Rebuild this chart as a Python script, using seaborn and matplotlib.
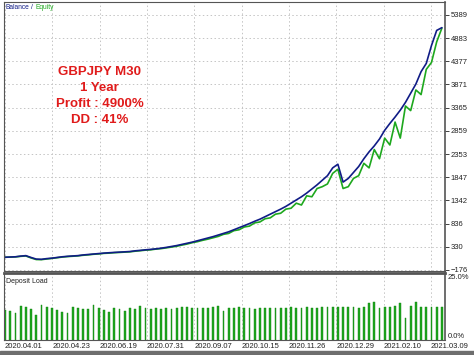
import numpy as np
import matplotlib.pyplot as plt
import seaborn as sns
from matplotlib.patches import Rectangle

# trade-by-trade balance / equity
balance = [100, 105, 110, 125, 135, 95, 60, 55, 70, 80,
           95, 110, 120, 128, 135, 150, 160, 170, 180, 190,
           198, 205, 212, 218, 225, 240, 250, 262, 272, 283,
           298, 315, 335, 355, 380, 405, 430, 460, 490, 520,
           550, 585, 620, 655, 700, 745, 790, 835, 885, 930,
           985, 1040, 1095, 1150, 1210, 1280, 1350, 1420, 1500, 1590,
           1680, 1780, 1880, 2050, 2130, 1740, 1820, 1950, 2080, 2250,
           2400, 2530, 2680, 2870, 3020, 3160, 3310, 3480, 3680, 3880,
           4150, 4330, 4720, 5050, 5110]
equity = [100, 103, 108, 120, 128, 85, 50, 48, 62, 75,
          90, 104, 115, 122, 130, 143, 152, 165, 172, 185,
          190, 200, 205, 212, 218, 232, 243, 255, 262, 278,
          288, 305, 322, 340, 365, 388, 418, 440, 470, 495,
          525, 555, 600, 620, 680, 700, 760, 780, 850, 870,
          940, 960, 1040, 1060, 1150, 1170, 1280, 1240, 1440, 1420,
          1600, 1640, 1700, 1930, 2020, 1600, 1640, 1820, 1880, 2150,
          2050, 2450, 2250, 2700, 2550, 3050, 2700, 3400, 3300, 3750,
          3650, 4200, 4350, 4800, 5100]
deposit_load = [11.7, 11.4, 10.7, 13.4, 12.8, 12.0, 9.8, 13.7, 13.0, 12.4,
                11.7, 10.9, 10.4, 13.0, 12.6, 12.0, 12.0, 13.5, 12.6, 11.7,
                10.9, 12.6, 12.0, 11.4, 12.6, 12.0, 13.2, 12.4, 12.0, 12.4,
                12.0, 12.4, 12.0, 12.4, 13.0, 12.8, 12.4, 12.6, 12.6, 12.6,
                12.8, 13.3, 11.4, 12.4, 12.4, 12.8, 12.4, 12.4, 12.0, 12.4,
                12.4, 12.4, 12.6, 12.4, 12.4, 12.8, 12.6, 12.4, 12.8, 12.4,
                12.6, 12.8, 13.0, 12.8, 12.8, 12.8, 12.8, 12.8, 12.6, 12.8,
                14.4, 15.0, 12.4, 12.8, 12.8, 13.2, 14.6, 8.6, 13.2, 15.0,
                13.0, 13.0, 13.0, 12.8, 12.8]
trades = list(range(len(balance)))

y_ticks = [-176, 330, 836, 1342, 1847, 2353, 2859, 3365, 3871, 4377, 4883, 5389]
x_labels = ["2020.04.01", "2020.04.23", "2020.06.19", "2020.07.31", "2020.09.07",
            "2020.10.15", "2020.11.26", "2020.12.29", "2021.02.10", "2021.03.09"]
headline = ["GBPJPY M30", "1 Year", "Profit : 4900%", "DD : 41%"]

sns.set_style("white")
plt.rcParams["font.family"] = ["Liberation Sans", "DejaVu Sans"]

fig = plt.figure(figsize=(4.74, 3.55), dpi=100)
ax = fig.add_axes([4 / 474, 1 - 271 / 355, 441 / 474, 269 / 355])
ax2 = fig.add_axes([4 / 474, 1 - 340 / 355, 441 / 474, 67 / 355], sharex=ax)

navy = "#101c86"
green = "#1ea81e"
grid_kw = dict(color="#c4c4c4", linestyle=(0, (1.5, 2.5)), linewidth=0.7)

sns.lineplot(x=trades, y=equity, ax=ax, color=green, linewidth=1.2)
sns.lineplot(x=trades, y=balance, ax=ax, color=navy, linewidth=1.2)

x_ticks = np.arange(len(x_labels)) * 9.1
ax.set_xlim(-0.2, 84.6)
ax.set_ylim(-200, 5670)
ax.set_yticks(y_ticks)
ax.yaxis.tick_right()
ax.tick_params(axis="y", labelsize=5.5, length=3, width=0.6, pad=1, colors="#222222")
ax.set_xticks(x_ticks)
ax.tick_params(axis="x", labelbottom=False, length=0)
ax.grid(True, **grid_kw)
for s in ax.spines.values():
    s.set_color("#555555")
    s.set_linewidth(0.8)
ax.spines["right"].set_linewidth(1.2)

fig.text(5 / 474, 1 - 4 / 355, "Balance", fontsize=4.8, color=navy, va="top")
fig.text(31 / 474, 1 - 4 / 355, "/", fontsize=4.8, color=navy, va="top")
fig.text(36 / 474, 1 - 4 / 355, "Equity", fontsize=4.8, color=green, va="top")

for k, line in enumerate(headline):
    ax.text(0.217, 0.74 - k * 0.06, line, transform=ax.transAxes, ha="center", va="center",
            fontsize=9.5, fontweight="bold", color="#e01b1b")

ax2.bar(trades, deposit_load, width=0.35, color=green, edgecolor="#138013", linewidth=0.3)
ax2.set_ylim(0, 26.2)
ax2.set_yticks([0, 25])
ax2.set_yticklabels(["0.0%", "25.0%"])
ax2.yaxis.tick_right()
ax2.tick_params(axis="y", labelsize=5.5, length=0, pad=2, colors="#222222")
ax2.get_yticklabels()[0].set_va("bottom")
ax2.set_xticks(x_ticks)
ax2.set_xticklabels(x_labels, ha="left")
ax2.tick_params(axis="x", labelsize=5.5, length=0, pad=2.5, colors="#222222")
ax2.grid(True, axis="x", **grid_kw)
for s in ax2.spines.values():
    s.set_color("#555555")
    s.set_linewidth(0.8)
ax2.spines["top"].set_linewidth(2)
ax2.spines["right"].set_linewidth(1.2)
ax2.text(0.005, 0.93, "Deposit Load", transform=ax2.transAxes, fontsize=5, color="#222222", va="top")

fig.patches.append(Rectangle((0, 0), 1, 4 / 355, transform=fig.transFigure,
                             color="#6e6e6e", zorder=0))

fig.savefig("out.png", dpi=100)
